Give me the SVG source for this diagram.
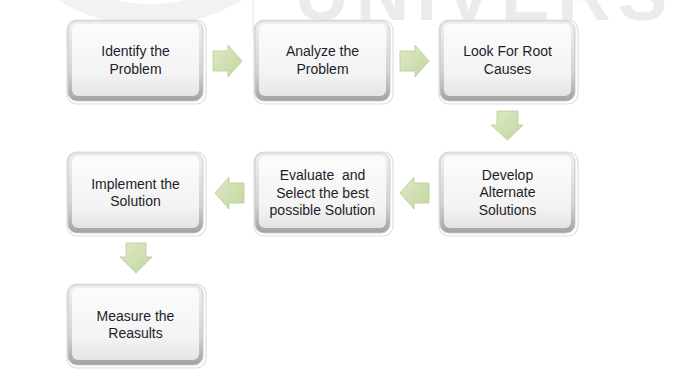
<svg xmlns="http://www.w3.org/2000/svg" width="675" height="384" viewBox="0 0 675 384">
  <defs>
    <linearGradient id="rim" x1="0" y1="0" x2="0" y2="1">
      <stop offset="0" stop-color="#f0f0f0"/>
      <stop offset="0.65" stop-color="#d2d2d2"/>
      <stop offset="1" stop-color="#a2a2a2"/>
    </linearGradient>
    <linearGradient id="face" x1="0" y1="0" x2="0" y2="1">
      <stop offset="0" stop-color="#fcfcfc"/>
      <stop offset="0.7" stop-color="#f3f3f3"/>
      <stop offset="1" stop-color="#e4e4e4"/>
    </linearGradient>
    <linearGradient id="arrowFill" x1="0" y1="0" x2="1" y2="1">
      <stop offset="0" stop-color="#dde9c6"/>
      <stop offset="1" stop-color="#c3d79e"/>
    </linearGradient>
    <style>
      .shadow { fill: none; stroke: #dedede; stroke-width: 1.2; }
      .rim { fill: url(#rim); stroke: #c4c4c4; stroke-width: 0.8; }
      .face { fill: url(#face); }
      .lbl { font-family: "Liberation Sans", Arial, sans-serif; font-size: 14px; fill: #1e1e2a; text-anchor: middle; white-space: pre; }
      .arr { fill: url(#arrowFill); stroke: #b9cd97; stroke-width: 0.8; }
      .wm { font-family: "Liberation Sans", Arial, sans-serif; font-weight: bold; font-size: 74px; fill: #ebebeb; }
    </style>
    <g id="box">
      <rect class="shadow" x="-1" y="-1" width="139" height="84" rx="10"/>
      <rect class="rim" x="0" y="0" width="135" height="80" rx="9"/>
      <rect class="face" x="4" y="3" width="127" height="72" rx="6"/>
    </g>
  </defs>

  <rect width="675" height="384" fill="#ffffff"/>

  <!-- watermark -->
  <g id="watermark">
    <circle cx="150" cy="-150" r="165" fill="none" stroke="#f2f2f2" stroke-width="22"/>
    <line x1="253" y1="0" x2="253" y2="32" stroke="#e4e4e4" stroke-width="1"/>
    <text class="wm" x="295" y="20" textLength="400" lengthAdjust="spacing">UNIVERSI</text>
  </g>

  <!-- connectors -->
  <g id="connectors">
    <polygon class="arr" points="213,51 228,51 228,45 242,61 228,77 228,71 213,71"/>
    <polygon class="arr" points="400,51 415,51 415,45 429,61 415,77 415,71 400,71"/>
    <polygon class="arr" points="497,111 518,111 518,125 523,125 507.5,140 491,125 497,125"/>
    <polygon class="arr" points="429,183 414,183 414,177 400,193 414,209 414,203 429,203"/>
    <polygon class="arr" points="244,183 229,183 229,177 215,193 229,209 229,203 244,203"/>
    <polygon class="arr" points="126,243 146,243 146,257 152,257 136,273 120,257 126,257"/>
  </g>

  <g id="n1" transform="translate(68,21)">
    <use href="#box"/>
    <text class="lbl" x="67.5" y="35">Identify the</text>
    <text class="lbl" x="67.5" y="53">Problem</text>
  </g>
  <g id="n2" transform="translate(255,21)">
    <use href="#box"/>
    <text class="lbl" x="67.5" y="35">Analyze the</text>
    <text class="lbl" x="67.5" y="53">Problem</text>
  </g>
  <g id="n3" transform="translate(440,21)">
    <use href="#box"/>
    <text class="lbl" x="67.5" y="35">Look For Root</text>
    <text class="lbl" x="67.5" y="53">Causes</text>
  </g>
  <g id="n4" transform="translate(440,153)">
    <use href="#box"/>
    <text class="lbl" x="67.5" y="27">Develop</text>
    <text class="lbl" x="67.5" y="44">Alternate</text>
    <text class="lbl" x="67.5" y="62">Solutions</text>
  </g>
  <g id="n5" transform="translate(255,153)">
    <use href="#box"/>
    <text class="lbl" x="67.5" y="27">Evaluate  and</text>
    <text class="lbl" x="67.5" y="45">Select the best</text>
    <text class="lbl" x="67.5" y="62">possible Solution</text>
  </g>
  <g id="n6" transform="translate(68,153)">
    <use href="#box"/>
    <text class="lbl" x="67.5" y="36">Implement the</text>
    <text class="lbl" x="67.5" y="53">Solution</text>
  </g>
  <g id="n7" transform="translate(68,285)">
    <use href="#box"/>
    <text class="lbl" x="67.5" y="36">Measure the</text>
    <text class="lbl" x="67.5" y="53">Reasults</text>
  </g>
</svg>
